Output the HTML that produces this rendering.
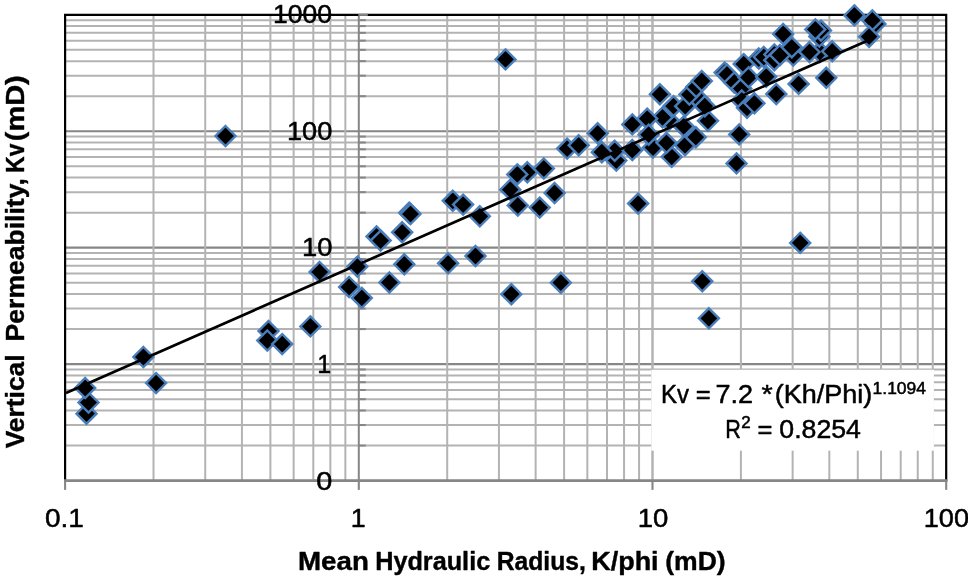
<!DOCTYPE html>
<html><head><meta charset="utf-8"><title>Vertical Permeability vs Mean Hydraulic Radius</title>
<style>html,body{margin:0;padding:0;background:#fff}body{width:968px;height:579px;overflow:hidden}svg{display:block}text{font-family:"Liberation Sans",sans-serif;fill:#000;stroke:#000;stroke-width:.5px;stroke-linejoin:round}.b{font-weight:bold;stroke-width:.4px}</style></head><body>
<svg width="968" height="579" viewBox="0 0 968 579">
<rect width="968" height="579" fill="#fff"/>
<g stroke="#b3b3b3" stroke-width="2" fill="none">
<line x1="65.1" x2="946.20" y1="445.55" y2="445.55"/>
<line x1="65.1" x2="946.20" y1="425.04" y2="425.04"/>
<line x1="65.1" x2="946.20" y1="410.49" y2="410.49"/>
<line x1="65.1" x2="946.20" y1="399.20" y2="399.20"/>
<line x1="65.1" x2="946.20" y1="389.98" y2="389.98"/>
<line x1="65.1" x2="946.20" y1="382.19" y2="382.19"/>
<line x1="65.1" x2="946.20" y1="375.44" y2="375.44"/>
<line x1="65.1" x2="946.20" y1="369.48" y2="369.48"/>
<line x1="65.1" x2="946.20" y1="329.10" y2="329.10"/>
<line x1="65.1" x2="946.20" y1="308.59" y2="308.59"/>
<line x1="65.1" x2="946.20" y1="294.04" y2="294.04"/>
<line x1="65.1" x2="946.20" y1="282.75" y2="282.75"/>
<line x1="65.1" x2="946.20" y1="273.53" y2="273.53"/>
<line x1="65.1" x2="946.20" y1="265.74" y2="265.74"/>
<line x1="65.1" x2="946.20" y1="258.99" y2="258.99"/>
<line x1="65.1" x2="946.20" y1="253.03" y2="253.03"/>
<line x1="65.1" x2="946.20" y1="212.65" y2="212.65"/>
<line x1="65.1" x2="946.20" y1="192.14" y2="192.14"/>
<line x1="65.1" x2="946.20" y1="177.59" y2="177.59"/>
<line x1="65.1" x2="946.20" y1="166.30" y2="166.30"/>
<line x1="65.1" x2="946.20" y1="157.08" y2="157.08"/>
<line x1="65.1" x2="946.20" y1="149.29" y2="149.29"/>
<line x1="65.1" x2="946.20" y1="142.54" y2="142.54"/>
<line x1="65.1" x2="946.20" y1="136.58" y2="136.58"/>
<line x1="65.1" x2="946.20" y1="96.20" y2="96.20"/>
<line x1="65.1" x2="946.20" y1="75.69" y2="75.69"/>
<line x1="65.1" x2="946.20" y1="61.14" y2="61.14"/>
<line x1="65.1" x2="946.20" y1="49.85" y2="49.85"/>
<line x1="65.1" x2="946.20" y1="40.63" y2="40.63"/>
<line x1="65.1" x2="946.20" y1="32.84" y2="32.84"/>
<line x1="65.1" x2="946.20" y1="26.09" y2="26.09"/>
<line x1="65.1" x2="946.20" y1="20.13" y2="20.13"/>
</g>
<g stroke="#868686" stroke-width="2.2" fill="none">
<line x1="65.1" x2="946.20" y1="364.15" y2="364.15"/>
<line x1="65.1" x2="946.20" y1="247.70" y2="247.70"/>
<line x1="65.1" x2="946.20" y1="131.25" y2="131.25"/>
</g>
<g stroke="#b3b3b3" stroke-width="2" fill="none">
<line y1="14.80" y2="480.6" x1="153.51" x2="153.51"/>
<line y1="14.80" y2="480.6" x1="205.23" x2="205.23"/>
<line y1="14.80" y2="480.6" x1="241.93" x2="241.93"/>
<line y1="14.80" y2="480.6" x1="270.39" x2="270.39"/>
<line y1="14.80" y2="480.6" x1="293.64" x2="293.64"/>
<line y1="14.80" y2="480.6" x1="313.31" x2="313.31"/>
<line y1="14.80" y2="480.6" x1="330.34" x2="330.34"/>
<line y1="14.80" y2="480.6" x1="345.36" x2="345.36"/>
<line y1="14.80" y2="480.6" x1="447.21" x2="447.21"/>
<line y1="14.80" y2="480.6" x1="498.93" x2="498.93"/>
<line y1="14.80" y2="480.6" x1="535.63" x2="535.63"/>
<line y1="14.80" y2="480.6" x1="564.09" x2="564.09"/>
<line y1="14.80" y2="480.6" x1="587.34" x2="587.34"/>
<line y1="14.80" y2="480.6" x1="607.01" x2="607.01"/>
<line y1="14.80" y2="480.6" x1="624.04" x2="624.04"/>
<line y1="14.80" y2="480.6" x1="639.06" x2="639.06"/>
<line y1="14.80" y2="480.6" x1="740.91" x2="740.91"/>
<line y1="14.80" y2="480.6" x1="792.63" x2="792.63"/>
<line y1="14.80" y2="480.6" x1="829.33" x2="829.33"/>
<line y1="14.80" y2="480.6" x1="857.79" x2="857.79"/>
<line y1="14.80" y2="480.6" x1="881.04" x2="881.04"/>
<line y1="14.80" y2="480.6" x1="900.71" x2="900.71"/>
<line y1="14.80" y2="480.6" x1="917.74" x2="917.74"/>
<line y1="14.80" y2="480.6" x1="932.76" x2="932.76"/>
<line y1="14.80" y2="480.6" x1="652.50" x2="652.50" stroke-width="2.5"/>
</g>
<g stroke="#868686" stroke-width="2" fill="none">
<line x1="358.80" x2="358.80" y1="14.80" y2="480.6"/>
<line x1="358.80" x2="365.80" y1="445.55" y2="445.55"/>
<line x1="358.80" x2="365.80" y1="425.04" y2="425.04"/>
<line x1="358.80" x2="365.80" y1="410.49" y2="410.49"/>
<line x1="358.80" x2="365.80" y1="399.20" y2="399.20"/>
<line x1="358.80" x2="365.80" y1="389.98" y2="389.98"/>
<line x1="358.80" x2="365.80" y1="382.19" y2="382.19"/>
<line x1="358.80" x2="365.80" y1="375.44" y2="375.44"/>
<line x1="358.80" x2="365.80" y1="369.48" y2="369.48"/>
<line x1="358.80" x2="365.80" y1="329.10" y2="329.10"/>
<line x1="358.80" x2="365.80" y1="308.59" y2="308.59"/>
<line x1="358.80" x2="365.80" y1="294.04" y2="294.04"/>
<line x1="358.80" x2="365.80" y1="282.75" y2="282.75"/>
<line x1="358.80" x2="365.80" y1="273.53" y2="273.53"/>
<line x1="358.80" x2="365.80" y1="265.74" y2="265.74"/>
<line x1="358.80" x2="365.80" y1="258.99" y2="258.99"/>
<line x1="358.80" x2="365.80" y1="253.03" y2="253.03"/>
<line x1="358.80" x2="365.80" y1="212.65" y2="212.65"/>
<line x1="358.80" x2="365.80" y1="192.14" y2="192.14"/>
<line x1="358.80" x2="365.80" y1="177.59" y2="177.59"/>
<line x1="358.80" x2="365.80" y1="166.30" y2="166.30"/>
<line x1="358.80" x2="365.80" y1="157.08" y2="157.08"/>
<line x1="358.80" x2="365.80" y1="149.29" y2="149.29"/>
<line x1="358.80" x2="365.80" y1="142.54" y2="142.54"/>
<line x1="358.80" x2="365.80" y1="136.58" y2="136.58"/>
<line x1="358.80" x2="365.80" y1="96.20" y2="96.20"/>
<line x1="358.80" x2="365.80" y1="75.69" y2="75.69"/>
<line x1="358.80" x2="365.80" y1="61.14" y2="61.14"/>
<line x1="358.80" x2="365.80" y1="49.85" y2="49.85"/>
<line x1="358.80" x2="365.80" y1="40.63" y2="40.63"/>
<line x1="358.80" x2="365.80" y1="32.84" y2="32.84"/>
<line x1="358.80" x2="365.80" y1="26.09" y2="26.09"/>
<line x1="358.80" x2="365.80" y1="20.13" y2="20.13"/>
</g>
<polyline points="65.1,481.6 65.1,14.80 946.20,14.80 946.20,481.6" fill="none" stroke="#000" stroke-width="2.2" stroke-linejoin="miter"/>
<line x1="358.30" x2="367.80" y1="14.80" y2="14.80" stroke="#868686" stroke-width="2.2"/>
<line x1="64.00" x2="947.30" y1="480.6" y2="480.6" stroke="#868686" stroke-width="2.8"/>
<line x1="65.10" x2="65.10" y1="480.6" y2="489.90000000000003" stroke="#868686" stroke-width="2.1"/>
<line x1="358.80" x2="358.80" y1="480.6" y2="489.90000000000003" stroke="#868686" stroke-width="2.1"/>
<line x1="652.50" x2="652.50" y1="480.6" y2="489.90000000000003" stroke="#868686" stroke-width="2.1"/>
<line x1="946.20" x2="946.20" y1="480.6" y2="489.90000000000003" stroke="#868686" stroke-width="2.1"/>
<rect x="651.3" y="369.75" width="282.6" height="80.9" fill="#fff"/>
<g fill="#000" stroke="#4a7ebb" stroke-width="2.4" stroke-linejoin="miter">
<path d="M86.5 403.7L96.5 413.7L86.5 423.7L76.5 413.7Z"/>
<path d="M88.5 392.5L98.5 402.5L88.5 412.5L78.5 402.5Z"/>
<path d="M85.2 378.0L95.2 388.0L85.2 398.0L75.2 388.0Z"/>
<path d="M143.4 347.0L153.4 357.0L143.4 367.0L133.4 357.0Z"/>
<path d="M156.1 373.1L166.1 383.1L156.1 393.1L146.1 383.1Z"/>
<path d="M225.5 126.0L235.5 136.0L225.5 146.0L215.5 136.0Z"/>
<path d="M268.5 321.0L278.5 331.0L268.5 341.0L258.5 331.0Z"/>
<path d="M267.3 330.5L277.3 340.5L267.3 350.5L257.3 340.5Z"/>
<path d="M282.2 334.1L292.2 344.1L282.2 354.1L272.2 344.1Z"/>
<path d="M310.4 316.4L320.4 326.4L310.4 336.4L300.4 326.4Z"/>
<path d="M319.6 262.0L329.6 272.0L319.6 282.0L309.6 272.0Z"/>
<path d="M349.1 277.0L359.1 287.0L349.1 297.0L339.1 287.0Z"/>
<path d="M361.8 287.9L371.8 297.9L361.8 307.9L351.8 297.9Z"/>
<path d="M357.4 256.6L367.4 266.6L357.4 276.6L347.4 266.6Z"/>
<path d="M389.4 272.5L399.4 282.5L389.4 292.5L379.4 282.5Z"/>
<path d="M376.5 226.4L386.5 236.4L376.5 246.4L366.5 236.4Z"/>
<path d="M380.6 230.6L390.6 240.6L380.6 250.6L370.6 240.6Z"/>
<path d="M402.2 222.3L412.2 232.3L402.2 242.3L392.2 232.3Z"/>
<path d="M409.2 202.7L419.2 212.7L409.2 222.7L399.2 212.7Z"/>
<path d="M410.5 204.0L420.5 214.0L410.5 224.0L400.5 214.0Z"/>
<path d="M404.3 254.3L414.3 264.3L404.3 274.3L394.3 264.3Z"/>
<path d="M448.1 253.3L458.1 263.3L448.1 273.3L438.1 263.3Z"/>
<path d="M452.8 190.8L462.8 200.8L452.8 210.8L442.8 200.8Z"/>
<path d="M463.1 194.6L473.1 204.6L463.1 214.6L453.1 204.6Z"/>
<path d="M479.8 206.3L489.8 216.3L479.8 226.3L469.8 216.3Z"/>
<path d="M475.5 246.0L485.5 256.0L475.5 266.0L465.5 256.0Z"/>
<path d="M505.5 49.4L515.5 59.4L505.5 69.4L495.5 59.4Z"/>
<path d="M511.3 284.2L521.3 294.2L511.3 304.2L501.3 294.2Z"/>
<path d="M560.8 272.7L570.8 282.7L560.8 292.7L550.8 282.7Z"/>
<path d="M510.3 179.7L520.3 189.7L510.3 199.7L500.3 189.7Z"/>
<path d="M527.3 162.3L537.3 172.3L527.3 182.3L517.3 172.3Z"/>
<path d="M517.3 164.4L527.3 174.4L517.3 184.4L507.3 174.4Z"/>
<path d="M543.8 158.5L553.8 168.5L543.8 178.5L533.8 168.5Z"/>
<path d="M517.8 195.5L527.8 205.5L517.8 215.5L507.8 205.5Z"/>
<path d="M539.7 197.6L549.7 207.6L539.7 217.6L529.7 207.6Z"/>
<path d="M554.6 183.0L564.6 193.0L554.6 203.0L544.6 193.0Z"/>
<path d="M567.1 138.6L577.1 148.6L567.1 158.6L557.1 148.6Z"/>
<path d="M578.7 135.3L588.7 145.3L578.7 155.3L568.7 145.3Z"/>
<path d="M597.7 123.3L607.7 133.3L597.7 143.3L587.7 133.3Z"/>
<path d="M616.3 150.5L626.3 160.5L616.3 170.5L606.3 160.5Z"/>
<path d="M614.7 140.8L624.7 150.8L614.7 160.8L604.7 150.8Z"/>
<path d="M601.8 142.2L611.8 152.2L601.8 162.2L591.8 152.2Z"/>
<path d="M632.3 140.0L642.3 150.0L632.3 160.0L622.3 150.0Z"/>
<path d="M638.1 193.6L648.1 203.6L638.1 213.6L628.1 203.6Z"/>
<path d="M668.6 110.2L678.6 120.2L668.6 130.2L658.6 120.2Z"/>
<path d="M632.3 114.4L642.3 124.4L632.3 134.4L622.3 124.4Z"/>
<path d="M662.5 107.4L672.5 117.4L662.5 127.4L652.5 117.4Z"/>
<path d="M647.2 108.7L657.2 118.7L647.2 128.7L637.2 118.7Z"/>
<path d="M659.9 84.3L669.9 94.3L659.9 104.3L649.9 94.3Z"/>
<path d="M673.5 96.1L683.5 106.1L673.5 116.1L663.5 106.1Z"/>
<path d="M699.5 90.0L709.5 100.0L699.5 110.0L689.5 100.0Z"/>
<path d="M685.2 96.2L695.2 106.2L685.2 116.2L675.2 106.2Z"/>
<path d="M689.4 84.6L699.4 94.6L689.4 104.6L679.4 94.6Z"/>
<path d="M696.2 77.0L706.2 87.0L696.2 97.0L686.2 87.0Z"/>
<path d="M701.8 71.0L711.8 81.0L701.8 91.0L691.8 81.0Z"/>
<path d="M708.0 110.8L718.0 120.8L708.0 130.8L698.0 120.8Z"/>
<path d="M704.8 96.2L714.8 106.2L704.8 116.2L694.8 106.2Z"/>
<path d="M683.7 116.4L693.7 126.4L683.7 136.4L673.7 126.4Z"/>
<path d="M685.0 135.3L695.0 145.3L685.0 155.3L675.0 145.3Z"/>
<path d="M695.8 127.2L705.8 137.2L695.8 147.2L685.8 137.2Z"/>
<path d="M653.0 137.5L663.0 147.5L653.0 157.5L643.0 147.5Z"/>
<path d="M671.7 146.8L681.7 156.8L671.7 166.8L661.7 156.8Z"/>
<path d="M666.5 132.8L676.5 142.8L666.5 152.8L656.5 142.8Z"/>
<path d="M648.6 124.7L658.6 134.7L648.6 144.7L638.6 134.7Z"/>
<path d="M724.6 62.6L734.6 72.6L724.6 82.6L714.6 72.6Z"/>
<path d="M727.0 64.5L737.0 74.5L727.0 84.5L717.0 74.5Z"/>
<path d="M734.3 72.5L744.3 82.5L734.3 92.5L724.3 82.5Z"/>
<path d="M741.3 78.6L751.3 88.6L741.3 98.6L731.3 88.6Z"/>
<path d="M743.7 54.1L753.7 64.1L743.7 74.1L733.7 64.1Z"/>
<path d="M748.5 67.4L758.5 77.4L748.5 87.4L738.5 77.4Z"/>
<path d="M758.8 48.5L768.8 58.5L758.8 68.5L748.8 58.5Z"/>
<path d="M763.8 47.0L773.8 57.0L763.8 67.0L753.8 57.0Z"/>
<path d="M774.4 44.5L784.4 54.5L774.4 64.5L764.4 54.5Z"/>
<path d="M774.3 50.2L784.3 60.2L774.3 70.2L764.3 60.2Z"/>
<path d="M766.2 66.7L776.2 76.7L766.2 86.7L756.2 76.7Z"/>
<path d="M783.2 24.0L793.2 34.0L783.2 44.0L773.2 34.0Z"/>
<path d="M793.2 45.6L803.2 55.6L793.2 65.6L783.2 55.6Z"/>
<path d="M780.0 45.0L790.0 55.0L780.0 65.0L770.0 55.0Z"/>
<path d="M791.8 37.3L801.8 47.3L791.8 57.3L781.8 47.3Z"/>
<path d="M819.8 42.0L829.8 52.0L819.8 62.0L809.8 52.0Z"/>
<path d="M809.5 42.0L819.5 52.0L809.5 62.0L799.5 52.0Z"/>
<path d="M819.3 26.6L829.3 36.6L819.3 46.6L809.3 36.6Z"/>
<path d="M821.0 20.6L831.0 30.6L821.0 40.6L811.0 30.6Z"/>
<path d="M815.3 19.4L825.3 29.4L815.3 39.4L805.3 29.4Z"/>
<path d="M832.2 41.3L842.2 51.3L832.2 61.3L822.2 51.3Z"/>
<path d="M854.4 5.4L864.4 15.4L854.4 25.4L844.4 15.4Z"/>
<path d="M875.4 14.0L885.4 24.0L875.4 34.0L865.4 24.0Z"/>
<path d="M872.3 10.4L882.3 20.4L872.3 30.4L862.3 20.4Z"/>
<path d="M869.1 26.7L879.1 36.7L869.1 46.7L859.1 36.7Z"/>
<path d="M826.3 67.8L836.3 77.8L826.3 87.8L816.3 77.8Z"/>
<path d="M798.6 73.9L808.6 83.9L798.6 93.9L788.6 83.9Z"/>
<path d="M776.3 84.0L786.3 94.0L776.3 104.0L766.3 94.0Z"/>
<path d="M741.8 90.5L751.8 100.5L741.8 110.5L731.8 100.5Z"/>
<path d="M747.0 97.8L757.0 107.8L747.0 117.8L737.0 107.8Z"/>
<path d="M754.4 93.3L764.4 103.3L754.4 113.3L744.4 103.3Z"/>
<path d="M739.2 124.4L749.2 134.4L739.2 144.4L729.2 134.4Z"/>
<path d="M736.5 153.4L746.5 163.4L736.5 173.4L726.5 163.4Z"/>
<path d="M702.3 271.3L712.3 281.3L702.3 291.3L692.3 281.3Z"/>
<path d="M708.9 308.3L718.9 318.3L708.9 328.3L698.9 318.3Z"/>
<path d="M800.2 232.9L810.2 242.9L800.2 252.9L790.2 242.9Z"/>
</g>
<line x1="66" y1="392.96" x2="867.3" y2="40.7" stroke="#000" stroke-width="2.7"/>
<g>
<text transform="translate(273.11 22.70) scale(1.0287 1)" font-size="25.8">1000</text>
<text transform="translate(286.96 139.70) scale(1.0544 1)" font-size="25.8">100</text>
<text transform="translate(302.05 255.90) scale(1.0608 1)" font-size="25.8">10</text>
<text transform="translate(317.33 372.60) scale(0.9679 1)" font-size="25.8">1</text>
<text transform="translate(316.34 489.80) scale(1.1202 1)" font-size="25.8">0</text>
<text transform="translate(44.98 526.70) scale(1.0862 1)" font-size="25.8">0.1</text>
<text transform="translate(350.79 526.90) scale(1.0396 1)" font-size="25.8">1</text>
<text transform="translate(637.63 526.90) scale(1.0686 1)" font-size="25.8">10</text>
<text transform="translate(923.66 526.90) scale(1.0544 1)" font-size="25.8">100</text>
<text transform="translate(298.03 569.70) scale(1.0663 1)" font-size="26.0" class="b">Mean</text>
<text transform="translate(375.20 569.70) scale(0.9710 1)" font-size="26.0" class="b">Hydraulic</text>
<text transform="translate(496.73 569.70) scale(0.9501 1)" font-size="26.0" class="b">Radius,</text>
<text transform="translate(591.18 569.70) scale(1.0381 1)" font-size="26.0" class="b">K/phi</text>
<text transform="translate(665.27 569.70) scale(1.0209 1)" font-size="26.0" class="b">(mD)</text>
<text transform="translate(660.92 402.60) scale(0.9224 1)" font-size="26.0">Kv</text>
<text transform="translate(695.82 402.60) scale(0.9833 1)" font-size="26.0">=</text>
<text transform="translate(715.48 402.60) scale(1.0396 1)" font-size="26.0">7.2</text>
<text transform="translate(761.60 402.60) scale(1.1051 1)" font-size="26.0">*</text>
<text transform="translate(774.71 402.60) scale(1.0389 1)" font-size="26.0">(Kh/Phi)</text>
<text transform="translate(872.59 394.40) scale(1.0713 1)" font-size="16.3">1.1094</text>
<text transform="translate(725.22 437.50) scale(0.8309 1)" font-size="26.0">R</text>
<text transform="translate(741.25 427.50) scale(1.0848 1)" font-size="15.6">2</text>
<text transform="translate(757.52 437.50) scale(0.9833 1)" font-size="26.0">=</text>
<text transform="translate(779.33 437.50) scale(1.0265 1)" font-size="26.0">0.8254</text>
<text transform="translate(23.80 448.30) rotate(-90) scale(1.0157 1)" font-size="26.0" class="b">Vertical</text>
<text transform="translate(23.80 341.39) rotate(-90) scale(1.0207 1)" font-size="26.0" class="b">Permeability,</text>
<text transform="translate(23.80 172.63) rotate(-90) scale(0.8746 1)" font-size="26.0" class="b">Kv</text>
<text transform="translate(23.80 141.15) rotate(-90) scale(1.1128 1)" font-size="26.0" class="b">(mD)</text>
</g>
</svg></body></html>
